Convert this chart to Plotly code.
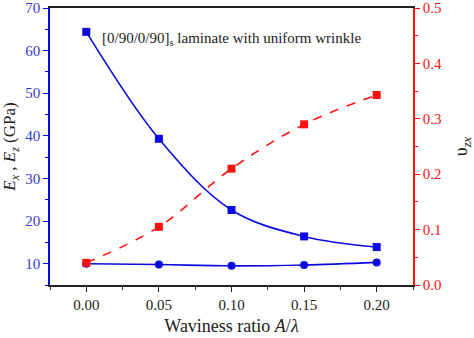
import plotly.graph_objects as go

waviness = [0.00, 0.05, 0.10, 0.15, 0.20]
Ex = [64.4, 39.3, 22.6, 16.4, 13.9]
Ez = [10.0, 9.8, 9.5, 9.7, 10.3]
nu_zx = [0.040, 0.105, 0.210, 0.290, 0.343]

BLUE = "#0a0ae0"
RED = "#ff1010"
FONT = "Liberation Serif"

fig = go.Figure()
fig.add_trace(go.Scatter(x=waviness, y=Ex, mode="lines+markers",
                         line=dict(color=BLUE, width=1.6, shape="spline"),
                         marker=dict(symbol="square", size=8, color=BLUE)))
fig.add_trace(go.Scatter(x=waviness, y=Ez, mode="lines+markers",
                         line=dict(color=BLUE, width=1.6, shape="spline"),
                         marker=dict(symbol="circle", size=8, color=BLUE)))
fig.add_trace(go.Scatter(x=waviness, y=nu_zx, mode="lines+markers", yaxis="y2",
                         line=dict(color=RED, width=1.6, shape="spline", dash="dash"),
                         marker=dict(symbol="square", size=8, color=RED)))

fig.update_layout(
    width=474, height=338,
    margin=dict(l=50, r=61, t=8, b=53),
    paper_bgcolor="white", plot_bgcolor="white",
    showlegend=False,
    font=dict(family=FONT, size=15, color="black"),
    xaxis=dict(range=[-0.025, 0.225], tickvals=[0, 0.05, 0.10, 0.15, 0.20],
               ticktext=["0.00", "0.05", "0.10", "0.15", "0.20"], automargin=False,
               ticks="outside", ticklen=5, tickcolor="#222", showgrid=False, zeroline=False,
               showline=True, linecolor="#222", linewidth=1.5, mirror=True,
               minor=dict(ticks="outside", ticklen=3, dtick=0.025, tickcolor="#222"),
               tickfont=dict(family=FONT, size=15, color="#222"),
               title=dict(text="Waviness ratio <i>A</i>/<i>λ</i>", standoff=8,
                          font=dict(family=FONT, size=18, color="#222"))),
    yaxis=dict(range=[5, 70], tickvals=[10, 20, 30, 40, 50, 60, 70], automargin=False,
               ticklabeloverflow="allow",
               ticks="outside", ticklen=5, tickcolor=BLUE, showgrid=False, zeroline=False,
               showline=True, linecolor=BLUE, linewidth=1.5,
               minor=dict(ticks="outside", ticklen=3, dtick=5, tickcolor=BLUE),
               tickfont=dict(family=FONT, size=15, color="#3a3ad0"),
               title=dict(text="<i>E</i><sub><i>x</i></sub> , <i>E</i><sub><i>z</i></sub> (GPa)",
                          standoff=6, font=dict(family=FONT, size=17, color="#222"))),
    yaxis2=dict(range=[0, 0.5], tickvals=[0, 0.1, 0.2, 0.3, 0.4, 0.5],
                ticktext=["0.0", "0.1", "0.2", "0.3", "0.4", "0.5"], automargin=False,
                ticklabeloverflow="allow",
                overlaying="y", side="right",
                ticks="outside", ticklen=5, tickcolor=RED, showgrid=False, zeroline=False,
                showline=True, linecolor=RED, linewidth=1.5,
                minor=dict(ticks="outside", ticklen=3, dtick=0.05, tickcolor=RED),
                tickfont=dict(family=FONT, size=15, color=RED),
                title=dict(text="υ<sub><i>zx</i></sub>", standoff=14,
                           font=dict(family=FONT, size=18, color="#222"))),
    annotations=[dict(x=0.5, y=0.928, xref="paper", yref="paper",
                      text="[0/90/0/90]<sub>s</sub> laminate with uniform wrinkle",
                      showarrow=False, xanchor="center",
                      font=dict(family=FONT, size=15, color="#222"))],
)

fig.write_html("out.html")
